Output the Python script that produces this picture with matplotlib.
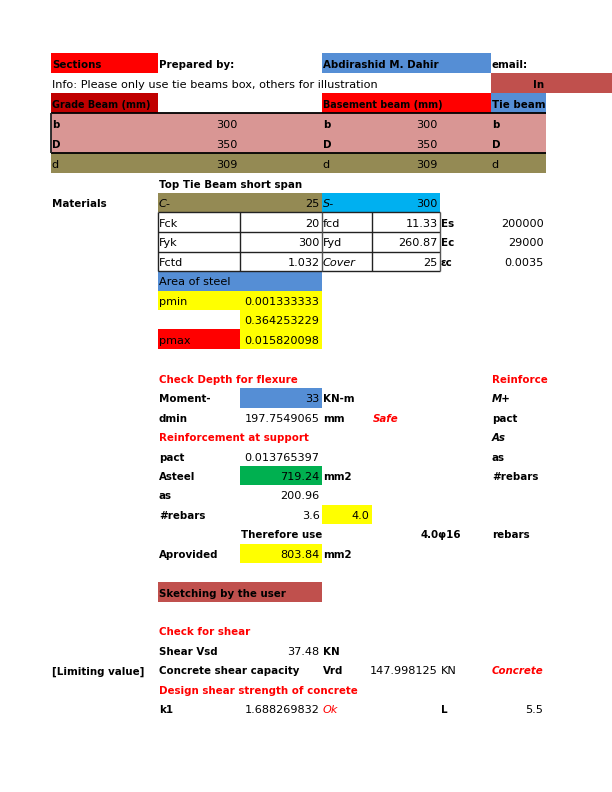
import matplotlib
matplotlib.use("Agg")
import matplotlib.pyplot as plt
from matplotlib.patches import Rectangle

# ---- sheet content ----
author = "Abdirashid M. Dahir"
info_line = "Info: Please only use tie beams box, others for illustration"
beam_titles = ["Grade Beam (mm)", "Basement beam (mm)", "Tie beam"]
beam_b = ["300", "300"]
beam_D = ["350", "350"]
beam_d = ["309", "309"]
concrete_class = "25"
steel_class = "300"
material_labels = ["Fck", "Fyk", "Fctd"]
material_values = ["20", "300", "1.032"]
design_labels = ["fcd", "Fyd", "Cover"]
design_values = ["11.33", "260.87", "25"]
modulus_labels = ["Es", "Ec", "\u03b5c"]
modulus_values = ["200000", "29000", "0.0035"]
steel_ratio_values = ["0.001333333", "0.364253229", "0.015820098"]
flexure_labels = ["Moment-", "dmin", "Reinforcement at support", "pact", "Asteel", "as", "#rebars"]
flexure_values = ["33", "197.7549065", None, "0.013765397", "719.24", "200.96", "3.6"]
flexure_units = ["KN-m", "mm", None, None, "mm2", None, None]
reinforce_labels = ["M+", "pact", "As", "as", "#rebars"]
rebars_rounded = "4.0"
rebar_text = "4.0\u03c616"
a_provided = "803.84"
shear_vsd = "37.48"
shear_vrd = "147.998125"
k1_value = "1.688269832"
span_value = "5.5"

# ---- layout ----
W, H = 612, 792
COL = dict(A=51, B=158, C=240, D=322, E=372, F=440, G=491, H=546, I=612)
TOPS = [53.3, 73.3, 92.7, 112.7, 133, 153, 173, 193, 212.3, 232, 251.7, 271.3, 290.6, 310, 329.4, 349.3]
while len(TOPS) < 36:
    TOPS.append(TOPS[-1] + 19.42)

RED, DRED, BLUE, BRICK = "#FF0000", "#C00000", "#558ED5", "#C0504D"
PINK, OLIVE, CYAN, GREEN, YEL = "#D99694", "#948A54", "#00B0F0", "#00B050", "#FFFF00"

plt.rcParams["font.family"] = "DejaVu Sans"
fig = plt.figure(figsize=(W / 100, H / 100), dpi=100)
ax = fig.add_axes([0, 0, 1, 1])
ax.set_xlim(0, W)
ax.set_ylim(H, 0)
ax.axis("off")


def fill(r, c0, c1, color, r1=None):
    r1 = r if r1 is None else r1
    x0, x1 = COL[c0], COL[c1]
    ax.add_patch(Rectangle((x0, TOPS[r]), x1 - x0, TOPS[r1 + 1] - TOPS[r],
                           fc=color, ec="none", zorder=1))


def put(r, c, s, kind="n", color="black", right=False, dx=0, size=None):
    x = COL[c] + dx + (-2.5 if right else 0.8)
    weight = "bold" if kind in ("b", "bi") else "normal"
    style = "italic" if kind in ("i", "bi") else "normal"
    if size is None:
        size = 7.4 if weight == "bold" else 8.1
    ax.text(x, TOPS[r + 1] - 5.2, s, ha="right" if right else "left", va="baseline",
            fontsize=size, fontweight=weight, fontstyle=style, color=color, zorder=3)


def line(x0, y0, x1, y1, lw=1.2, color="#222222"):
    ax.plot([x0, x1], [y0, y1], color=color, lw=lw, solid_capstyle="butt", zorder=2)


# fills
fill(0, "A", "B", RED)
fill(0, "D", "G", BLUE)
fill(1, "G", "I", BRICK)
fill(2, "A", "B", DRED)
fill(2, "D", "G", RED)
fill(2, "G", "H", BLUE)
fill(3, "A", "H", PINK, 4)
fill(5, "A", "H", OLIVE)
fill(7, "B", "D", OLIVE)
fill(7, "D", "F", CYAN)
fill(11, "B", "D", BLUE)
fill(12, "B", "D", YEL)
fill(13, "C", "D", YEL)
fill(14, "B", "C", RED)
fill(14, "C", "D", YEL)
fill(17, "C", "D", BLUE)
fill(21, "C", "D", GREEN)
fill(23, "D", "E", YEL)
fill(25, "C", "D", YEL)
fill(27, "B", "D", BRICK)

# borders
line(COL["A"], TOPS[3], COL["H"], TOPS[3], 1.3, "black")
line(COL["A"], TOPS[5], COL["H"], TOPS[5], 1.3, "black")
line(COL["A"], TOPS[3], COL["A"], TOPS[5], 1.3, "#222222")
for r in range(8, 12):
    line(COL["B"], TOPS[r], COL["F"], TOPS[r], 1.0)
for c in "BCDEF":
    line(COL[c], TOPS[8], COL[c], TOPS[11], 1.0, "#555555" if c in "DF" else "#222222")

# header block
put(0, "A", "Sections", "b")
put(0, "B", "Prepared by:", "b")
put(0, "D", author, "b")
put(0, "G", "email:", "b")
put(1, "A", info_line)
put(1, "G", "In", "b", dx=41)
for c, t, sz in zip("ADG", beam_titles, (6.9, 6.9, 7.4)):
    put(2, c, t, "b", size=sz)
for r, name, vals in [(3, "b", beam_b), (4, "D", beam_D)]:
    for c in "ADG":
        put(r, c, name, "b")
    put(r, "C", vals[0], right=True)
    put(r, "F", vals[1], right=True)
for c in "ADG":
    put(5, c, "d")
put(5, "C", beam_d[0], right=True)
put(5, "F", beam_d[1], right=True)

# materials
put(6, "B", "Top Tie Beam short span", "b")
put(7, "A", "Materials", "b")
put(7, "B", "C-", "i")
put(7, "D", concrete_class, right=True)
put(7, "D", "S-", "i")
put(7, "F", steel_class, right=True)
for i in range(3):
    put(8 + i, "B", material_labels[i])
    put(8 + i, "D", material_values[i], right=True)
    put(8 + i, "D", design_labels[i], "i" if design_labels[i] == "Cover" else "n")
    put(8 + i, "F", design_values[i], right=True)
    put(8 + i, "F", modulus_labels[i], "b")
    put(8 + i, "H", modulus_values[i], right=True)
put(11, "B", "Area of steel")
put(12, "B", "pmin")
put(14, "B", "pmax")
for r, v in zip((12, 13, 14), steel_ratio_values):
    put(r, "D", v, right=True)

# flexure
put(16, "B", "Check Depth for flexure", "b", RED)
put(16, "G", "Reinforce", "b", RED)
for i, lab in enumerate(flexure_labels):
    r = 17 + i
    if flexure_values[i] is None:
        put(r, "B", lab, "b", RED)
        continue
    put(r, "B", lab, "b")
    put(r, "D", flexure_values[i], right=True)
    if flexure_units[i]:
        put(r, "D", flexure_units[i], "b")
put(18, "E", "Safe", "bi", RED)
put(17, "G", reinforce_labels[0], "bi")
put(18, "G", reinforce_labels[1], "b")
put(19, "G", reinforce_labels[2], "bi")
put(20, "G", reinforce_labels[3], "b")
put(21, "G", reinforce_labels[4], "b")
put(23, "E", rebars_rounded, right=True)
put(24, "C", "Therefore use", "b")
put(24, "E", rebar_text, "b", dx=48)
put(24, "G", "rebars", "b")
put(25, "B", "Aprovided", "b")
put(25, "D", a_provided, right=True)
put(25, "D", "mm2", "b")

# sketch + shear
put(27, "B", "Sketching by the user", "b")
put(29, "B", "Check for shear", "b", RED)
put(30, "B", "Shear Vsd", "b")
put(30, "D", shear_vsd, right=True)
put(30, "D", "KN", "b")
put(31, "A", "[Limiting value]", "b")
put(31, "B", "Concrete shear capacity", "b")
put(31, "D", "Vrd", "b")
put(31, "F", shear_vrd, right=True)
put(31, "F", "KN")
put(31, "G", "Concrete", "bi", RED)
put(32, "B", "Design shear strength of concrete", "b", RED)
put(33, "B", "k1", "b")
put(33, "D", k1_value, right=True)
put(33, "D", "Ok", "i", RED)
put(33, "F", "L", "b")
put(33, "H", span_value, right=True)

fig.savefig("out.png", dpi=100)
